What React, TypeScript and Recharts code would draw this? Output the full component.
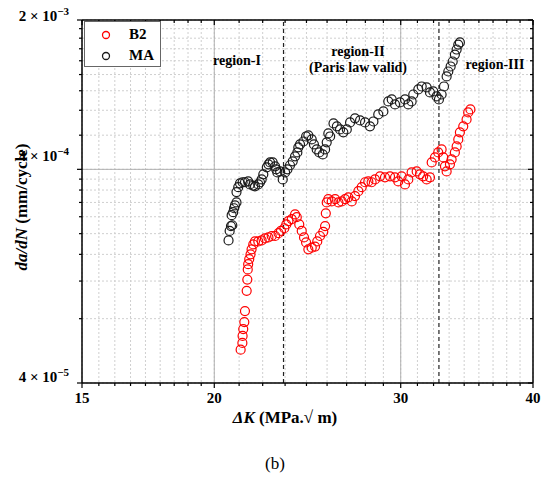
import { CartesianGrid, Legend, ReferenceLine, Scatter, ScatterChart, XAxis, YAxis } from 'recharts'

const FONT = "'Liberation Serif', 'Times New Roman', serif"
const RED = '#ff0000'
const BLACK = '#1a1a1a'

// ΔK (MPa·√m) and da/dN in units of 1e-4 mm/cycle
const maK = [
  20.63, 20.68, 20.74, 20.8, 20.77, 20.84, 20.88, 20.92, 20.99, 20.99,
  21.07, 21.15, 21.27, 21.38, 21.53, 21.61, 21.77, 21.85, 22.01, 22.09,
  22.17, 22.25, 22.42, 22.5, 22.58, 22.71, 22.83, 22.88, 22.94, 23.08,
  23.21, 23.33, 23.45, 23.58, 23.72, 23.84, 23.96, 24.01, 24.1, 24.28,
  24.42, 24.54, 24.72, 24.84, 24.99, 25.13, 25.32, 25.45, 25.54, 25.63,
  25.73, 25.92, 26.11, 26.29, 26.48, 26.68, 26.87, 27.16, 27.46, 27.76,
  28.06, 28.27, 28.57, 28.89, 29.2, 29.42, 29.63, 29.95, 30.28, 30.5,
  30.72, 30.83, 31.17, 31.4, 31.74, 31.97, 32.2, 32.43, 32.6, 32.79,
  32.96, 33.15, 33.27, 33.44, 33.59, 33.75, 33.88, 34.0, 34.12,
]
const maRateE4 = [
  1.86, 2.06, 2.17, 2.19, 2.44, 2.52, 2.63, 2.71, 2.8, 3.13,
  3.3, 3.44, 3.48, 3.48, 3.51, 3.4, 3.36, 3.33, 3.4, 3.48,
  3.59, 3.79, 4.09, 4.22, 4.31, 4.31, 4.13, 4.0, 3.87, 3.91,
  3.59, 3.87, 4.0, 4.18, 4.36, 4.6, 4.8, 5.07, 5.23, 5.4,
  5.7, 5.77, 5.52, 5.23, 4.96, 4.8, 4.7, 4.96, 5.35, 5.89,
  5.7, 6.56, 6.36, 6.15, 5.96, 6.15, 6.63, 6.93, 6.78, 6.63,
  6.36, 6.7, 7.23, 7.47, 8.32, 8.5, 8.05, 8.23, 8.5, 8.05,
  8.32, 8.96, 9.46, 9.77, 9.67, 9.16, 9.26, 8.78, 8.5, 8.96,
  9.77, 10.89, 11.48, 12.12, 12.79, 13.78, 14.55, 15.35, 15.7,
]
const b2K = [
  21.18, 21.26, 21.27, 21.3, 21.35, 21.38, 21.46, 21.49, 21.51, 21.53,
  21.58, 21.64, 21.69, 21.77, 21.85, 22.01, 22.17, 22.33, 22.5, 22.66,
  22.83, 23.0, 23.12, 23.29, 23.39, 23.5, 23.67, 23.84, 23.93, 24.06,
  24.19, 24.31, 24.42, 24.54, 24.72, 24.9, 25.02, 25.17, 25.35, 25.45,
  25.49, 25.54, 25.63, 25.82, 26.01, 26.2, 26.39, 26.58, 26.77, 26.97,
  27.16, 27.36, 27.56, 27.76, 27.96, 28.16, 28.37, 28.68, 28.99, 29.31,
  29.63, 29.84, 30.06, 30.28, 30.5, 30.72, 31.06, 31.28, 31.5, 31.74,
  31.97, 32.09, 32.32, 32.55, 32.79, 32.91, 33.03, 33.15, 33.39, 33.51,
  33.75, 33.88, 34.0, 34.12, 34.37, 34.62, 34.74, 34.91,
]
const b2RateE4 = [
  0.573, 0.616, 0.664, 0.715, 0.771, 0.868, 1.08, 1.22, 1.36, 1.44,
  1.52, 1.6, 1.69, 1.78, 1.84, 1.84, 1.86, 1.9, 1.92, 1.95,
  1.95, 2.01, 2.06, 2.12, 2.21, 2.29, 2.34, 2.46, 2.39, 2.21,
  2.06, 1.92, 1.82, 1.69, 1.72, 1.74, 1.84, 1.95, 2.04, 2.17,
  2.49, 2.8, 2.9, 2.83, 2.9, 2.8, 2.83, 2.9, 2.96, 2.83,
  3.0, 3.16, 3.3, 3.48, 3.51, 3.48, 3.59, 3.71, 3.67, 3.71,
  3.67, 3.51, 3.71, 3.4, 3.59, 3.87, 3.91, 3.79, 3.71, 3.59,
  3.67, 4.31, 4.55, 4.8, 4.96, 4.55, 4.13, 3.91, 4.22, 4.45,
  4.8, 5.12, 5.52, 5.96, 6.36, 6.85, 7.39, 7.63,
]

const xTicks = [
  15, 15.56, 16.11, 16.67, 17.22, 17.78, 18.33, 18.89, 19.44,
  20, 21.11, 22.22, 23.33, 24.44, 25.56, 26.67, 27.78, 28.89,
  30, 31.11, 32.22, 33.33, 34.44, 35.56, 36.67, 37.78, 38.89, 40,
]
const xMajor = [15, 20, 30, 40]
const yTicks = [
  4e-5, 8e-5, 1.2e-4, 1.6e-4, 2e-4, 2.4e-4, 2.8e-4, 3.2e-4, 3.6e-4,
  4e-4, 5.78e-4, 7.56e-4, 9.33e-4, 1.111e-3, 1.289e-3, 1.467e-3, 1.644e-3, 1.822e-3, 2e-3,
]
const yMajor = [4e-5, 4e-4, 2e-3]
const yLabels: Record<string, [string, string, number]> = {
  '0.00004': ['4', '−5', -1],
  '0.0004': ['4', '−4', -8],
  '0.002': ['2', '−3', 1],
}
const regionLines = [23.25, 32.6]

const maData = maK.map((k, i) => ({ k, rate: maRateE4[i] * 1e-4 }))
const b2Data = b2K.map((k, i) => ({ k, rate: b2RateE4[i] * 1e-4 }))

const W = 550
const H = 481
const PLOT_W = 451
const PLOT_H = 363

const XTick = (p: any) => {
  const { x, y, payload } = p
  const major = xMajor.includes(payload.value)
  const len = major ? 5 : 3
  return (
    <g>
      <line x1={x} x2={x} y1={y} y2={y + len} stroke="#000" strokeWidth={1.2} />
      <line x1={x} x2={x} y1={y - PLOT_H} y2={y - PLOT_H + len} stroke="#000" strokeWidth={1.2} />
      {major && (
        <text x={x} y={y + 20} textAnchor="middle" fontFamily={FONT} fontWeight="bold" fontSize={15} fill="#000">
          {payload.value}
        </text>
      )}
    </g>
  )
}

const YTick = (p: any) => {
  const { x, y, payload } = p
  const major = yMajor.includes(payload.value)
  const len = major ? 5 : 3
  const lab = yLabels[String(payload.value)]
  return (
    <g>
      <line x1={x} x2={x - len} y1={y} y2={y} stroke="#000" strokeWidth={1.2} />
      <line x1={x + PLOT_W} x2={x + PLOT_W - len} y1={y} y2={y} stroke="#000" strokeWidth={1.2} />
      {major && lab && (
        <text x={x - 13} y={y + lab[2]} textAnchor="end" fontFamily={FONT} fontWeight="bold" fontSize={15} fill="#000">
          {lab[0]} × 10
          <tspan dy={-6} fontSize={11}>{lab[1]}</tspan>
        </text>
      )}
    </g>
  )
}

const legendColors: Record<string, string> = { B2: RED, MA: BLACK }

const LegendBox = () => (
  <div
    style={{
      width: 75,
      height: 44,
      border: '1px solid #666',
      background: '#fff',
      fontFamily: FONT,
      fontWeight: 'bold',
      fontSize: 15,
      boxSizing: 'content-box',
    }}
  >
    {['B2', 'MA'].map((n) => (
      <div key={n} style={{ display: 'flex', alignItems: 'center', height: 21, marginTop: n === 'B2' ? 2 : 0 }}>
        <svg width={44} height={14}>
          <circle cx={21} cy={7} r={3.5} fill="none" stroke={legendColors[n]} strokeWidth={1.3} />
        </svg>
        <span style={{ color: '#000' }}>{n}</span>
      </div>
    ))}
  </div>
)

const ring = (color: string) => (p: any) =>
  <circle cx={p.cx} cy={p.cy} r={4.5} fill="none" stroke={color} strokeWidth={1.2} />

export default function App() {
  return (
    <div style={{ position: 'absolute', left: 0, top: 0, width: W, height: H, background: '#fff' }}>
      <ScatterChart width={W} height={H} margin={{ top: 20, right: 17, bottom: 68, left: 0 }}>
        <CartesianGrid stroke="#cfcfcf" strokeDasharray="2 2" />
        <XAxis
          type="number"
          dataKey="k"
          scale="log"
          domain={[15, 40]}
          ticks={xTicks}
          interval={0}
          allowDataOverflow
          height={30}
          tickSize={0}
          tickMargin={0}
          tickLine={false}
          tick={XTick}
          axisLine={{ stroke: '#000', strokeWidth: 1.5 }}
        />
        <YAxis
          type="number"
          dataKey="rate"
          scale="log"
          domain={[4e-5, 2e-3]}
          ticks={yTicks}
          interval={0}
          allowDataOverflow
          width={82}
          tickSize={0}
          tickMargin={0}
          tickLine={false}
          tick={YTick}
          axisLine={{ stroke: '#000', strokeWidth: 1.5 }}
        />
        <ReferenceLine x={20} stroke="#b0b0b0" strokeWidth={1} />
        <ReferenceLine x={30} stroke="#b0b0b0" strokeWidth={1} />
        <ReferenceLine y={4e-4} stroke="#b0b0b0" strokeWidth={1} />
        {regionLines.map((v) => (
          <ReferenceLine key={v} x={v} stroke="#222" strokeWidth={1.2} strokeDasharray="4 3" />
        ))}
        <ReferenceLine x={40} stroke="#000" strokeWidth={1.5} />
        <ReferenceLine y={2e-3} stroke="#000" strokeWidth={1.5} />
        <Scatter name="B2" data={b2Data} shape={ring(RED)} fill={RED} isAnimationActive={false} />
        <Scatter name="MA" data={maData} shape={ring(BLACK)} fill={BLACK} isAnimationActive={false} />
        <Legend
          layout="vertical"
          align="center"
          verticalAlign="middle"
          content={LegendBox}
          wrapperStyle={{ left: 84, top: 21, width: 77, height: 46 }}
        />
      </ScatterChart>
      <svg
        width={W}
        height={H}
        style={{ position: 'absolute', left: 0, top: 0, pointerEvents: 'none' }}
        fontFamily={FONT}
        fontWeight="bold"
        fill="#000"
      >
        <text x={237} y={65} textAnchor="middle" fontSize={14}>region-I</text>
        <text x={358} y={56} textAnchor="middle" fontSize={14}>region-II</text>
        <text x={358} y={72} textAnchor="middle" fontSize={14}>(Paris law valid)</text>
        <text x={495} y={69} textAnchor="middle" fontSize={14}>region-III</text>
        <text x={285} y={423} textAnchor="middle" fontSize={17}>
          <tspan fontStyle="italic">ΔK</tspan> (MPa.√ m)
        </text>
        <text transform="translate(27,207) rotate(-90)" textAnchor="middle" fontSize={17}>
          <tspan fontStyle="italic">da/dN</tspan> (mm/cycle)
        </text>
        <text x={275} y={469} textAnchor="middle" fontSize={17} fontWeight="normal">(b)</text>
      </svg>
    </div>
  )
}
